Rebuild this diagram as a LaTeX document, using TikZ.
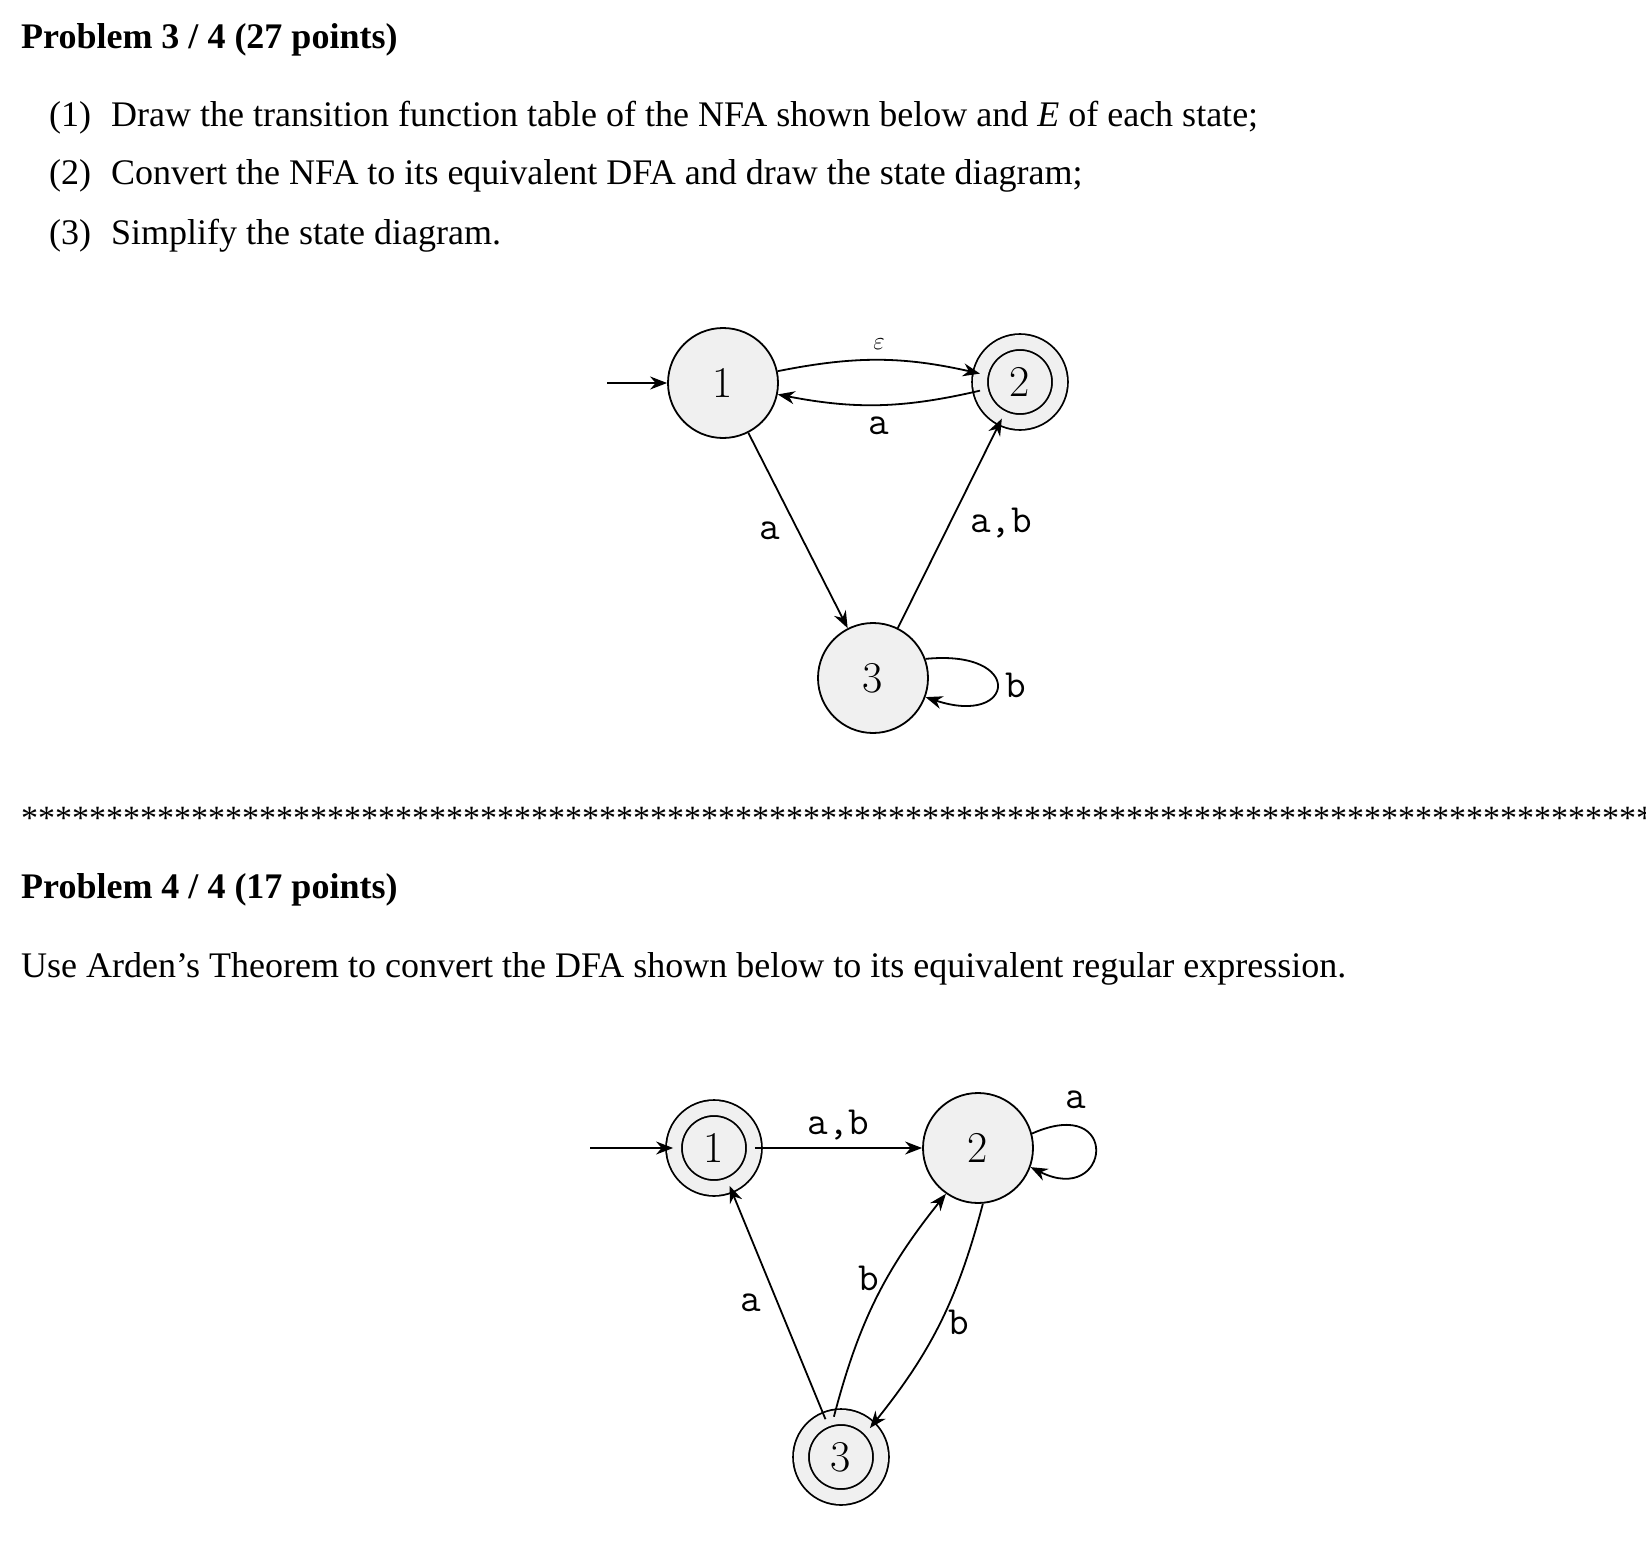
\documentclass[tikz,border=0pt]{standalone}
\usepackage{fontspec}
\setmainfont{Liberation Serif}
\newfontfamily\lmr{Latin Modern Roman}
\usetikzlibrary{arrows.meta}
\begin{document}
\begin{tikzpicture}[x=1pt,y=-1pt,
  st/.style={circle,draw,line width=1.8pt,fill=gray!12,minimum size=110pt,inner sep=0pt,font=\lmr\fontsize{44}{44}\selectfont},
  acc/.style={st,double=gray!12,double distance=14pt,minimum size=80pt},
  ed/.style={line width=1.8pt,-{Stealth[length=17pt,width=13pt]}},
  lb/.style={font=\ttfamily\fontsize{40}{40}\selectfont},
  tx/.style={anchor=west,font=\fontsize{36}{40}\selectfont,inner sep=0pt}]
\useasboundingbox (0,0) rectangle (1646,1562);
\node[tx] (t3) at (21,40) {\bfseries Problem 3 / 4 (27 points)};
\node[tx] (i1) at (49,118) {(1)\hspace{20pt}Draw the transition function table of the NFA shown below and \textit{E} of each state;};
\node[tx] (i2) at (49,176) {(2)\hspace{20pt}Convert the NFA to its equivalent DFA and draw the state diagram;};
\node[tx] (i3) at (49,236) {(3)\hspace{20pt}Simplify the state diagram.};
% NFA
\node[st] (a1) at (723,383) {1};
\node[acc] (a2) at (1020,382) {2};
\node[st] (a3) at (873,678) {3};
\coordinate (a0) at (607,383);
\draw[ed] (a0) -- (a1);
\draw[ed] (a1) to[bend left=12] node[lb,above=6pt,font=\fontsize{48}{48}\selectfont] {$\varepsilon$} (a2);
\draw[ed] (a2) to[bend left=12] node[lb,below=8pt] {a} (a1);
\draw[ed] (a1) -- node[lb,left=14pt] {a} (a3);
\draw[ed] (a3) -- node[lb,right=16pt] {a,b} (a2);
\draw[ed] (a3.20) .. controls +(100,-10) and +(90,30) .. node[lb,right=4pt] {b} (a3.-20);
% stars
\node[anchor=west,inner sep=0pt,font=\fontsize{34}{34}\selectfont] (stars) at (21,818)
 {\foreach \i in {1,...,110}{*}};
\node[tx] (t4) at (21,890) {\bfseries Problem 4 / 4 (17 points)};
\node[tx] (u4) at (21,969) {Use Arden’s Theorem to convert the DFA shown below to its equivalent regular expression.};
% DFA
\node[acc] (b1) at (714,1148) {1};
\node[st] (b2) at (978,1148) {2};
\node[acc] (b3) at (841,1457) {3};
\coordinate (b0) at (590,1148);
\draw[ed] (b0) -- (b1);
\draw[ed] (b1) -- node[lb,above=4pt] {a,b} (b2);
\draw[ed] (b2.15) .. controls +(90,-40) and +(80,40) .. (b2.-20);
\node[lb] (la) at (1076,1100) {a};
\draw[ed] (b3) -- node[lb,left=12pt] {a} (b1);
\draw[ed] (b3.100) to[bend left=12] node[lb,left=4pt,pos=0.6] {b} (b2.-125);
\draw[ed] (b2.-85) to[bend left=12] node[lb,right=4pt] {b} (b3.45);
\end{tikzpicture}
\end{document}
